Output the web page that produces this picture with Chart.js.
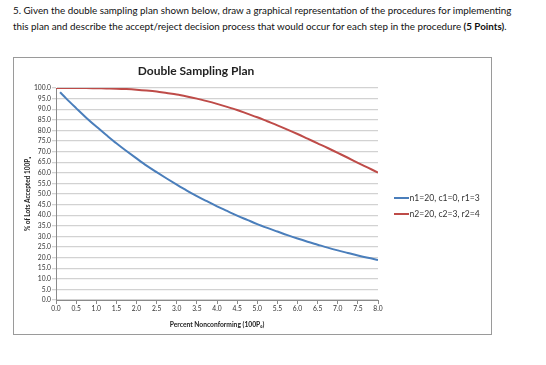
<!DOCTYPE html>
<html><head><meta charset="utf-8">
<script src="https://cdn.jsdelivr.net/npm/chart.js@4"></script>
<style>
html,body{margin:0;padding:0;background:#fff;width:546px;height:365px;overflow:hidden}
#q{position:absolute;left:13px;top:2px;font-family:Lato,"Open Sans",sans-serif;font-size:11px;line-height:16px;color:#111;white-space:nowrap}
#q div{display:block}
#box{position:absolute;left:13px;top:57px;width:477px;height:276px;border:1px solid #9a9a9a;background:#fff}
canvas{display:block}
</style></head>
<body>
<div id="q"><div id="l1">5. Given the double sampling plan shown below, draw a graphical representation of the procedures for implementing</div><div>this plan and describe the accept/reject decision process that would occur for each step in the procedure <b>(5 Points)</b>.</div></div>
<div id="box"><canvas id="c" width="477" height="276"></canvas></div>
<script>
// Percent nonconforming (100p)
const percentNonconforming = [0, 0.1, 0.25, 0.5, 0.75, 1.0, 1.25, 1.5, 1.75, 2.0, 2.25, 2.5, 2.75, 3.0, 3.25, 3.5, 3.75, 4.0, 4.25, 4.5, 4.75, 5.0, 5.25, 5.5, 5.75, 6.0, 6.25, 6.5, 6.75, 7.0, 7.25, 7.5, 7.75, 8.0];
// % of lots accepted, first series (n1=20, c1=0, r1=3)
const seriesOneAccepted = [null, 98.0, 95.1, 90.5, 86.0, 81.8, 77.8, 73.9, 70.3, 66.8, 63.4, 60.3, 57.3, 54.4, 51.6, 49.0, 46.6, 44.2, 42.0, 39.8, 37.8, 35.8, 34.0, 32.3, 30.6, 29.0, 27.5, 26.1, 24.7, 23.4, 22.2, 21.0, 19.9, 18.9];
// % of lots accepted, second series (n2=20, c2=3, r2=4)
const seriesTwoAccepted = [100.0, 100.0, 100.0, 100.0, 100.0, 99.9, 99.8, 99.7, 99.5, 99.2, 98.8, 98.3, 97.6, 96.9, 96.0, 95.0, 93.8, 92.5, 91.1, 89.6, 87.9, 86.2, 84.3, 82.4, 80.4, 78.3, 76.1, 73.9, 71.7, 69.4, 67.1, 64.7, 62.4, 60.1];
const seriesLabels = ['n1=20, c1=0, r1=3', 'n2=20, c2=3, r2=4'];
const chartTitle = 'Double Sampling Plan';
const xTitle = 'Percent Nonconforming (100P\u2080)';
const yTitle = '% of Lots Accepted 100P\u2090';

// fit question text width
(function(){
  const l1 = document.getElementById('l1');
  const q = document.getElementById('q');
  const w = l1.getBoundingClientRect().width;
  q.style.fontSize = (11 * 499 / w) + 'px';
})();

const toPts = ys => percentNonconforming.map((x, i) => ({x: x, y: ys[i]}));
const FONT = 'Lato, "Open Sans", sans-serif';

const legendPlugin = {
  id: 'sideLegend',
  afterDraw(chart) {
    const {ctx, chartArea} = chart;
    const x0 = chartArea.right + 16;
    const ys = [140, 156];
    ctx.save();
    ctx.font = '8.6px ' + FONT;
    ctx.textBaseline = 'middle';
    ctx.textAlign = 'left';
    chart.data.datasets.forEach((ds, i) => {
      ctx.strokeStyle = ds.borderColor;
      ctx.lineWidth = 2;
      ctx.beginPath();
      ctx.moveTo(x0, ys[i]);
      ctx.lineTo(x0 + 15, ys[i]);
      ctx.stroke();
      ctx.fillStyle = '#333';
      ctx.fillText(ds.label, x0 + 15.5, ys[i]);
    });
    ctx.restore();
  }
};

new Chart(document.getElementById('c'), {
  type: 'line',
  data: {
    datasets: [
      {label: seriesLabels[0], data: toPts(seriesOneAccepted), borderColor: '#4a7ebb', backgroundColor: '#4a7ebb', borderWidth: 2, pointRadius: 0, cubicInterpolationMode: 'monotone', fill: false},
      {label: seriesLabels[1], data: toPts(seriesTwoAccepted), borderColor: '#be4b48', backgroundColor: '#be4b48', borderWidth: 2, pointRadius: 0, cubicInterpolationMode: 'monotone', fill: false}
    ]
  },
  options: {
    responsive: false,
    animation: false,
    events: [],
    layout: {padding: {left: 0, right: 113, top: 0, bottom: 0}},
    plugins: {
      legend: {display: false},
      tooltip: {enabled: false},
      title: {display: true, text: chartTitle, color: '#222', font: {family: FONT, size: 12, weight: 'bold', lineHeight: 1.2}, padding: {top: 6, bottom: 9.6}}
    },
    scales: {
      x: {
        type: 'linear', min: 0, max: 8,
        afterFit(s) { s.height = 34; },
        ticks: {stepSize: 0.5, padding: 1, color: '#333', font: {family: FONT, size: 6.7}, callback: v => Number(v).toFixed(1), maxRotation: 0, autoSkip: false},
        grid: {drawOnChartArea: false, drawTicks: true, tickLength: 4, color: '#8a8a8a'},
        border: {color: '#8a8a8a', width: 1},
        title: {display: true, text: xTitle, color: '#222', font: {family: FONT, size: 6.7, weight: 'bold'}, padding: {top: 0, bottom: 5}}
      },
      y: {
        min: 0, max: 100,
        afterFit(s) { s.width = 42; },
        ticks: {stepSize: 5, padding: 1, color: '#333', font: {family: FONT, size: 6.7}, callback: v => Number(v).toFixed(1), autoSkip: false},
        grid: {color: '#d2d2d2', lineWidth: 1.3, tickLength: 4},
        border: {color: '#8a8a8a', width: 1},
        title: {display: true, text: yTitle, color: '#222', font: {family: FONT, size: 6.5, weight: 'bold'}, padding: {top: 10, bottom: 0}}
      }
    }
  },
  plugins: [legendPlugin]
});
</script>
</body></html>
